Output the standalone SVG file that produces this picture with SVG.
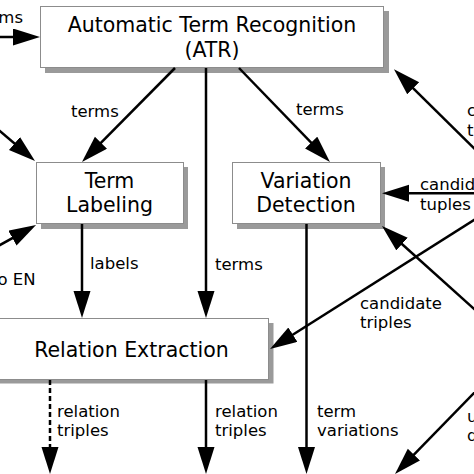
<svg xmlns="http://www.w3.org/2000/svg" width="474" height="474" viewBox="0 0 474 474">
  <style>
    .box { fill: #ffffff; stroke: #8c8c8c; stroke-width: 1; }
    .shadow { fill: #9a9a9a; }
    .btxt { font-family: "DejaVu Sans", "Liberation Sans", sans-serif; font-size: 20.5px; fill: #000; text-anchor: middle; }
    .lbl { font-family: "DejaVu Sans", "Liberation Sans", sans-serif; font-size: 16.5px; fill: #000; }
    .edge { fill: none; stroke: #000; stroke-width: 2.5; marker-end: url(#arrow); }
    .dashed { stroke-dasharray: 5,3; }
  </style>
  <defs>
    <marker id="arrow" markerUnits="userSpaceOnUse" markerWidth="28" markerHeight="18" refX="17" refY="8.5" orient="auto">
      <path d="M0,0 L27,8.5 L0,17 z" fill="#000"/>
    </marker>
  </defs>
  <rect width="474" height="474" fill="#ffffff"/>

  <g id="atr">
    <rect class="shadow" x="45" y="11" width="344" height="62"/>
    <rect class="box" x="40.5" y="6.5" width="343" height="61"/>
    <text class="btxt" x="212" y="32">Automatic Term Recognition</text>
    <text class="btxt" x="212" y="57">(ATR)</text>
  </g>

  <g id="term-labeling">
    <rect class="shadow" x="41" y="167" width="147" height="62"/>
    <rect class="box" x="36.5" y="162.5" width="147" height="61"/>
    <text class="btxt" x="109.5" y="188">Term</text>
    <text class="btxt" x="109.5" y="212">Labeling</text>
  </g>

  <g id="variation-detection">
    <rect class="shadow" x="237" y="167" width="148" height="62"/>
    <rect class="box" x="232.5" y="162.5" width="148" height="61"/>
    <text class="btxt" x="306" y="187.5">Variation</text>
    <text class="btxt" x="306" y="211.5">Detection</text>
  </g>

  <g id="relation-extraction">
    <rect class="shadow" x="0" y="323" width="273.5" height="60.5"/>
    <rect class="box" x="-5" y="318.5" width="273.5" height="61"/>
    <text class="btxt" x="131.5" y="357">Relation Extraction</text>
  </g>

  <g id="connectors">
    <line class="edge" x1="-10" y1="37" x2="30" y2="37"/>
    <line class="edge" x1="175" y1="68" x2="89" y2="154.9"/>
    <line class="edge" x1="206" y1="68" x2="206" y2="308"/>
    <line class="edge" x1="239" y1="68" x2="323" y2="154.8"/>
    <line class="edge" x1="82" y1="224" x2="82" y2="308"/>
    <line class="edge" x1="-15.2" y1="118" x2="27.4" y2="154.5"/>
    <line class="edge" x1="-17.5" y1="254.7" x2="27.3" y2="229.9"/>
    <line class="edge" x1="488" y1="162" x2="401.1" y2="76.3"/>
    <line class="edge" x1="490" y1="193.3" x2="392" y2="193.3"/>
    <line class="edge" x1="489" y1="322.4" x2="389.4" y2="232.7"/>
    <line class="edge" x1="490.9" y1="209.3" x2="278.5" y2="343.7"/>
    <line class="edge" x1="306.5" y1="224" x2="306.5" y2="464"/>
    <line class="edge" x1="488" y1="378.7" x2="402" y2="466.8"/>
    <line class="edge dashed" x1="50" y1="380" x2="50" y2="464"/>
    <line class="edge" x1="206" y1="380" x2="206" y2="464"/>
  </g>

  <g id="labels">
    <text class="lbl" x="23" y="22.5" text-anchor="end">terms</text>
    <text class="lbl" x="71" y="117">terms</text>
    <text class="lbl" x="296" y="115">terms</text>
    <text class="lbl" x="215" y="270">terms</text>
    <text class="lbl" x="90" y="269">labels</text>
    <text class="lbl" x="35.5" y="285" text-anchor="end">to EN</text>
    <text class="lbl" x="467" y="116">candidate</text>
    <text class="lbl" x="467" y="136">terms</text>
    <text class="lbl" x="420" y="190">candidate</text>
    <text class="lbl" x="420" y="210">tuples</text>
    <text class="lbl" x="360" y="309">candidate</text>
    <text class="lbl" x="360" y="328">triples</text>
    <text class="lbl" x="317" y="417">term</text>
    <text class="lbl" x="317" y="436">variations</text>
    <text class="lbl" x="57" y="417">relation</text>
    <text class="lbl" x="57" y="436">triples</text>
    <text class="lbl" x="215" y="417">relation</text>
    <text class="lbl" x="215" y="436">triples</text>
    <text class="lbl" x="467" y="422">user</text>
    <text class="lbl" x="467" y="441">queries</text>
  </g>
</svg>
